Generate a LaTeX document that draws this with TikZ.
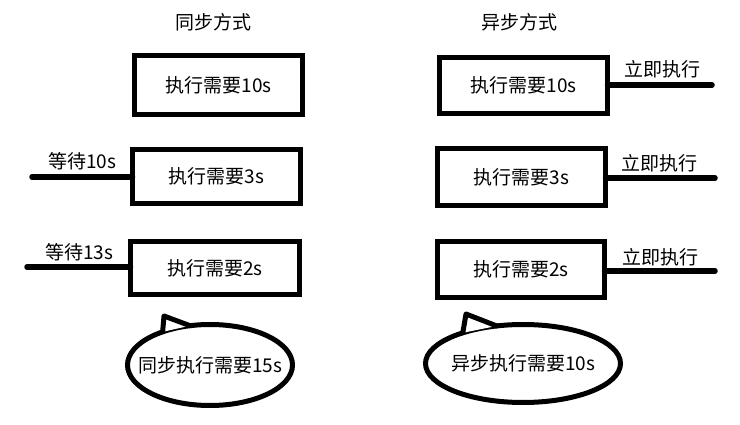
\documentclass[tikz,border=0pt]{standalone}
\usepackage{fontspec}
\setmainfont{Noto Sans CJK SC}
\usetikzlibrary{shapes.geometric}
\tikzstyle{task}=[draw, line width=5.5pt, minimum width=168pt, minimum height=56pt, inner sep=0, outer sep=0]
\tikzstyle{wire}=[line width=5.5pt, line cap=round, line join=round]
\tikzstyle{bubble}=[draw, ellipse, line width=5pt, inner sep=0, outer sep=0]
\tikzstyle{diagram}=[x=1pt, y=-1pt,
                     % Same type for every text.
                     every node/.style={font=\fontsize{19}{22}\selectfont}]
\begin{document}
\begin{tikzpicture}[diagram]
        \useasboundingbox (0,0) rectangle (740,425);
        \node (sync) at (213,22) {同步方式};
        \node (async) at (519,22) {异步方式};
        % Synchronous column.
        \node[task, minimum height=59pt]                   (S1) at (218.5,85)  {执行需要10s};
        \node[task, minimum height=54pt]                   (S2) at (216.5,176.5) {执行需要3s};
        \node[task, minimum height=53pt, minimum width=169pt] (S3) at (215,268) {执行需要2s};
        \coordinate (S2end) at (32,177);
        \coordinate (S3end) at (27,267);
        \draw[wire] (S2end -| S2.west) -- (S2end);
        \draw[wire] (S3end -| S3.west) -- (S3end);
        \node (wait1) at (82,161) {等待10s};
        \node (wait2) at (79,252) {等待13s};
        % Asynchronous column.
        \node[task]                          (A1) at (523.5,85.5) {执行需要10s};
        \node[task, minimum height=57pt]     (A2) at (521.5,177)  {执行需要3s};
        \node[task, minimum width=167pt]     (A3) at (521,269.5)  {执行需要2s};
        \coordinate (A1end) at (712,85);
        \coordinate (A2end) at (715,178);
        \coordinate (A3end) at (715,271);
        \draw[wire] (A1end -| A1.east) -- (A1end);
        \draw[wire] (A2end -| A2.east) -- (A2end);
        \draw[wire] (A3end -| A3.east) -- (A3end);
        \node (now1) at (662,69)  {立即执行};
        \node (now2) at (659,163) {立即执行};
        \node (now3) at (660,257) {立即执行};
        % Totals.
        \node[bubble, minimum width=165pt, minimum height=81pt, label=center:同步执行需要15s] (total1) at (210,365)   {};
        \node[bubble, minimum width=195pt, minimum height=78pt, label=center:异步执行需要10s] (total2) at (523,363.5) {};
        \coordinate (tip1) at (164,316);
        \coordinate (tip2) at (466,314);
        \fill[white] (total1.145) -- (tip1) -- (total1.117) -- cycle;
        \fill[white] (total2.153) -- (tip2) -- (total2.125) -- cycle;
        \draw[wire, line width=5pt] (total1.145) -- (tip1) -- (total1.117);
        \draw[wire, line width=5pt] (total2.153) -- (tip2) -- (total2.125);
    \end{tikzpicture}
\end{document}
